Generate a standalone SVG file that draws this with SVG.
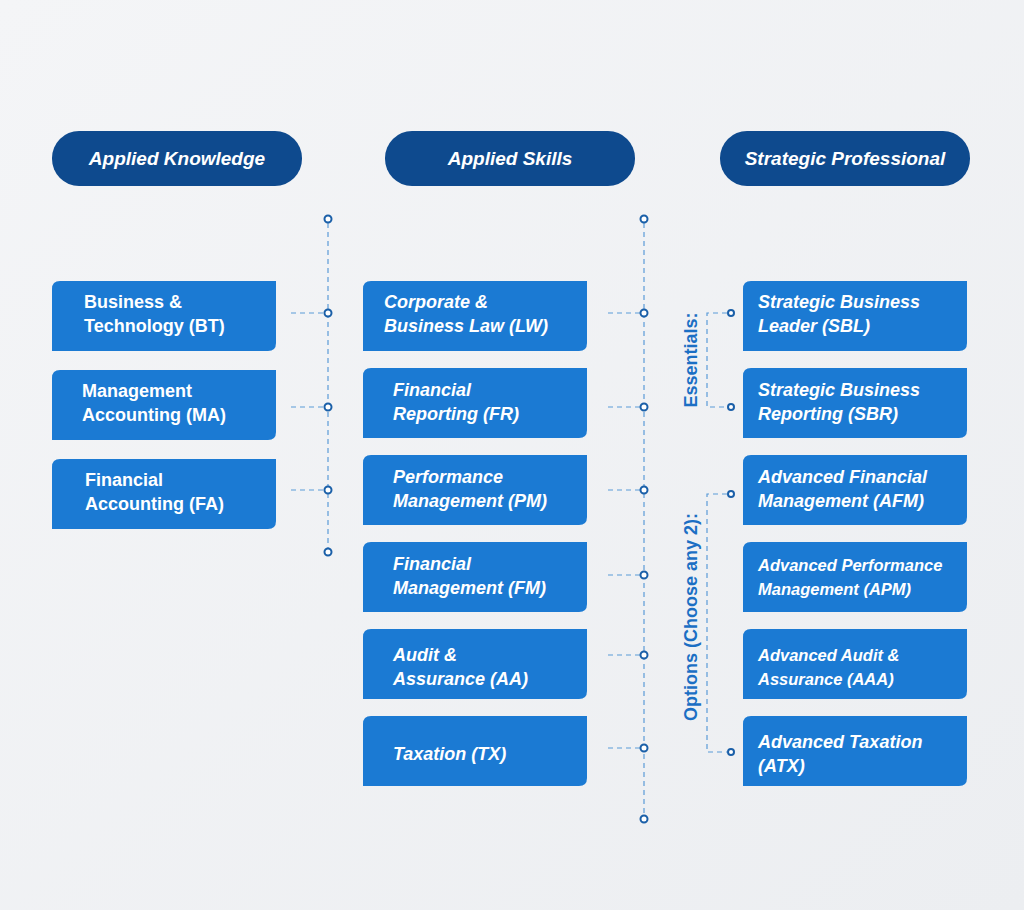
<svg xmlns="http://www.w3.org/2000/svg" width="1024" height="910" viewBox="0 0 1024 910">
<defs>
<linearGradient id="bg" x1="0" y1="0" x2="1" y2="1"><stop offset="0" stop-color="#f4f5f7"/><stop offset="1" stop-color="#eceef1"/></linearGradient>
</defs>
<style>
.hd{fill:#0e4a8e}
.bx{fill:#1b7ad3}
.t{font-family:"Liberation Sans",Arial,sans-serif;font-weight:bold;font-size:18px;fill:#fff}
.i{font-style:italic}
.s{font-size:16.5px}
.ht{font-family:"Liberation Sans",Arial,sans-serif;font-weight:bold;font-style:italic;font-size:19px;fill:#fff;text-anchor:middle}
.ln{stroke:#5b9bd8;stroke-width:1.2;stroke-dasharray:5 4;fill:none}
.dot{fill:#fff;stroke:#1a5fa8;stroke-width:2}
.lab{font-family:"Liberation Sans",Arial,sans-serif;font-weight:bold;font-size:18px;fill:#1b6fc4;text-anchor:middle}
</style>
<rect width="1024" height="910" fill="url(#bg)"/>
<g id="headers">
<g id="h1"><rect class="hd" x="52" y="131" width="250" height="55" rx="27"/><text class="ht" x="177" y="165">Applied Knowledge</text></g>
<g id="h2"><rect class="hd" x="385" y="131" width="250" height="55" rx="27"/><text class="ht" x="510" y="165">Applied Skills</text></g>
<g id="h3"><rect class="hd" x="720" y="131" width="250" height="55" rx="27"/><text class="ht" x="845" y="165">Strategic Professional</text></g>
</g>
<g id="connectors">
<path class="ln" d="M328 223V548M291 313H324M291 407H324M291 490H324"/>
<path class="ln" d="M644 223V815M608 313H640M608 407H640M608 490H640M608 575H640M608 655H640M608 748H640"/>
<path class="ln" d="M727 313H707V407H727M727 494H707V752H727"/>
<circle class="dot" cx="328" cy="219" r="3.5"/><circle class="dot" cx="328" cy="313" r="3.5"/><circle class="dot" cx="328" cy="407" r="3.5"/><circle class="dot" cx="328" cy="490" r="3.5"/><circle class="dot" cx="328" cy="552" r="3.5"/>
<circle class="dot" cx="644" cy="219" r="3.5"/><circle class="dot" cx="644" cy="313" r="3.5"/><circle class="dot" cx="644" cy="407" r="3.5"/><circle class="dot" cx="644" cy="490" r="3.5"/><circle class="dot" cx="644" cy="575" r="3.5"/><circle class="dot" cx="644" cy="655" r="3.5"/><circle class="dot" cx="644" cy="748" r="3.5"/><circle class="dot" cx="644" cy="819" r="3.5"/>
<circle class="dot" cx="731" cy="313" r="3" stroke-width="1.6"/><circle class="dot" cx="731" cy="407" r="3" stroke-width="1.6"/><circle class="dot" cx="731" cy="494" r="3" stroke-width="1.6"/><circle class="dot" cx="731" cy="752" r="3" stroke-width="1.6"/>
</g>
<text class="lab" transform="translate(697 360) rotate(-90)">Essentials:</text>
<text class="lab" transform="translate(697 617) rotate(-90)">Options (Choose any 2):</text>
<g id="bt"><path class="bx" d="M60 281H276V343Q276 351 268 351H52V289Q52 281 60 281Z"/><text class="t" x="84" y="308">Business &amp;</text><text class="t" x="84" y="332">Technology (BT)</text></g>
<g id="ma"><path class="bx" d="M60 370H276V432Q276 440 268 440H52V378Q52 370 60 370Z"/><text class="t" x="82" y="397">Management</text><text class="t" x="82" y="421">Accounting (MA)</text></g>
<g id="fa"><path class="bx" d="M60 459H276V521Q276 529 268 529H52V467Q52 459 60 459Z"/><text class="t" x="85" y="486">Financial</text><text class="t" x="85" y="510">Accounting (FA)</text></g>
<g id="lw"><path class="bx" d="M371 281H587V343Q587 351 579 351H363V289Q363 281 371 281Z"/><text class="t i" x="384" y="308">Corporate &amp;</text><text class="t i" x="384" y="332">Business Law (LW)</text></g>
<g id="fr"><path class="bx" d="M371 368H587V430Q587 438 579 438H363V376Q363 368 371 368Z"/><text class="t i" x="393" y="396">Financial</text><text class="t i" x="393" y="420">Reporting (FR)</text></g>
<g id="pm"><path class="bx" d="M371 455H587V517Q587 525 579 525H363V463Q363 455 371 455Z"/><text class="t i" x="393" y="483">Performance</text><text class="t i" x="393" y="507">Management (PM)</text></g>
<g id="fm"><path class="bx" d="M371 542H587V604Q587 612 579 612H363V550Q363 542 371 542Z"/><text class="t i" x="393" y="570">Financial</text><text class="t i" x="393" y="594">Management (FM)</text></g>
<g id="aa"><path class="bx" d="M371 629H587V691Q587 699 579 699H363V637Q363 629 371 629Z"/><text class="t i" x="393" y="661">Audit &amp;</text><text class="t i" x="393" y="685">Assurance (AA)</text></g>
<g id="tx"><path class="bx" d="M371 716H587V778Q587 786 579 786H363V724Q363 716 371 716Z"/><text class="t i" x="393" y="760">Taxation (TX)</text></g>
<g id="sbl"><path class="bx" d="M751 281H967V343Q967 351 959 351H743V289Q743 281 751 281Z"/><text class="t i" x="758" y="308">Strategic Business</text><text class="t i" x="758" y="332">Leader (SBL)</text></g>
<g id="sbr"><path class="bx" d="M751 368H967V430Q967 438 959 438H743V376Q743 368 751 368Z"/><text class="t i" x="758" y="396">Strategic Business</text><text class="t i" x="758" y="420">Reporting (SBR)</text></g>
<g id="afm"><path class="bx" d="M751 455H967V517Q967 525 959 525H743V463Q743 455 751 455Z"/><text class="t i" x="758" y="483">Advanced Financial</text><text class="t i" x="758" y="507">Management (AFM)</text></g>
<g id="apm"><path class="bx" d="M751 542H967V604Q967 612 959 612H743V550Q743 542 751 542Z"/><text class="t i s" x="758" y="571">Advanced Performance</text><text class="t i s" x="758" y="595">Management (APM)</text></g>
<g id="aaa"><path class="bx" d="M751 629H967V691Q967 699 959 699H743V637Q743 629 751 629Z"/><text class="t i s" x="758" y="661">Advanced Audit &amp;</text><text class="t i s" x="758" y="685">Assurance (AAA)</text></g>
<g id="atx"><path class="bx" d="M751 716H967V778Q967 786 959 786H743V724Q743 716 751 716Z"/><text class="t i" x="758" y="748">Advanced Taxation</text><text class="t i" x="758" y="772">(ATX)</text></g>
</svg>
